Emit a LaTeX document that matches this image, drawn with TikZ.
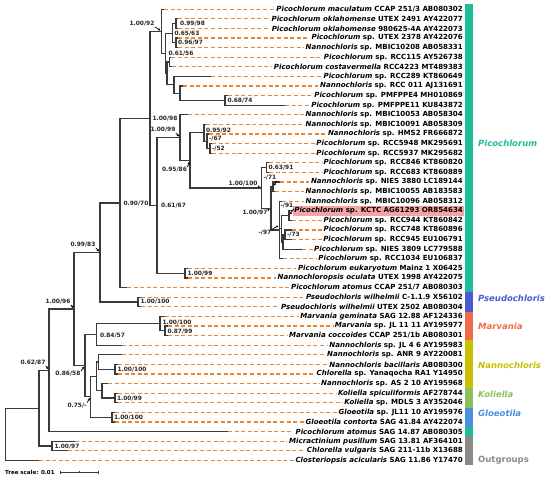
\documentclass[tikz,border=0pt]{standalone}
\usepackage{fontspec}
\setmainfont{DejaVu Sans}
\usetikzlibrary{arrows.meta}
\definecolor{brc}{HTML}{3A3A3A}
\definecolor{dshc}{HTML}{F0862A}
\definecolor{cPico}{HTML}{1CBC9A}
\definecolor{cPseu}{HTML}{4A5BD4}
\definecolor{cMarv}{HTML}{EE6A48}
\definecolor{cNann}{HTML}{C9C000}
\definecolor{cKoli}{HTML}{8DC05A}
\definecolor{cGloe}{HTML}{4A8FE0}
\definecolor{cOut}{HTML}{8A8A8A}
\definecolor{hilite}{HTML}{F5A3A3}
\newcommand\gn[1]{{\itshape #1}}
\tikzset{
  brl/.style={draw=brc,line width=1.2pt},
  dsh/.style={draw=dshc,line width=1.2pt,dash pattern=on 4pt off 2.6pt},
  leaflab/.style={anchor=east,inner sep=1.5pt,font=\fontsize{7.05}{8}\selectfont\bfseries,text=black},
  bs/.style={anchor=west,inner sep=0.3pt,font=\fontsize{5.9}{6.5}\selectfont\bfseries,text=black!85},
  arr/.style={draw=black,line width=0.75pt,-{Stealth[length=2.4pt,width=2.4pt]},shorten >=1.5pt},
  grp/.style={anchor=west,inner sep=0pt,font=\fontsize{8.5}{10}\selectfont\bfseries\itshape},
}
\newcommand\leaf[4]{%
  \coordinate (t#1) at (#2,{9.2+(#1-1)*9.6});
  \node[leaflab] (l#1) at (464.5,{9.2+(#1-1)*9.6}) {#4};
  \draw[brl] (#3) |- (t#1);
  \draw[dsh] (t#1) -- (l#1.west);
}
\begin{document}
\begin{tikzpicture}[x=1pt,y=-1pt]
\useasboundingbox[fill=white] (0,0) rectangle (550,480);
% internal nodes
\coordinate (n23) at (176,23.6);
\coordinate (n45) at (176,42.8);
\coordinate (P) at (172.5,33.2);
\coordinate (Q) at (169.3,62.0);
\coordinate (G) at (225,100.4);
\coordinate (E) at (180,93.2);
\coordinate (F) at (174,84.8);
\coordinate (D) at (167,73.4);
\coordinate (C) at (165.5,53.3);
\coordinate (B) at (161.7,31.25);
\coordinate (n1516) at (210,148.4);
\coordinate (n14) at (207,141.2);
\coordinate (J) at (204,132.8);
\coordinate (n1718) at (266.5,167.6);
\coordinate (M) at (273,186.8);
\coordinate (T) at (289,215.6);
\coordinate (W) at (285,234.8);
\coordinate (V) at (283,242.0);
\coordinate (R) at (281.5,228.8);
\coordinate (N) at (279.5,230.0);
\coordinate (Na) at (279.5,225.0);
\coordinate (L) at (271,208.4);
\coordinate (K) at (261.5,188.0);
\coordinate (I) at (190,160.4);
\coordinate (H) at (180,137.6);
\coordinate (n2829) at (185,273.2);
\coordinate (S061) at (157,205.4);
\coordinate (A150) at (150,118.3);
\coordinate (n090) at (120,203.0);
\coordinate (n3132) at (138,302.0);
\coordinate (n099) at (100,252.5);
\coordinate (n3435) at (165,330.8);
\coordinate (n33) at (160,323.6);
\coordinate (n084) at (96.5,334.4);
\coordinate (n3839) at (115,369.2);
\coordinate (n37) at (98.5,362.0);
\coordinate (n4142) at (115,398.0);
\coordinate (n40) at (102,390.8);
\coordinate (Z) at (96.5,376.4);
\coordinate (n4344) at (112,417.2);
\coordinate (n075) at (90.7,396.8);
\coordinate (n086) at (85,365.6);
\coordinate (n100) at (74,309.05);
\coordinate (n062) at (49,370.3);
\coordinate (n4647) at (52,446.0);
\coordinate (n39) at (39,408.2);
\coordinate (root) at (5.3,434.3);
% internal branches
\foreach \p/\c in {B/C,C/P,C/D,P/n23,P/n45,D/Q,D/F,F/E,E/G,A150/B,A150/S061,S061/H,S061/n2829,H/I,I/J,I/K,J/n14,n14/n1516,K/n1718,K/L,L/M,L/N,N/R,R/T,R/V,V/W,n090/A150,n099/n090,n099/n3132,n100/n099,n100/n086,n086/n084,n086/n075,n084/n33,n33/n3435,n075/Z,n075/n4344,Z/n37,Z/n40,n37/n3839,n40/n4142,n062/n100,n39/n062,n39/n4647,root/n39}
  {\draw[brl] (\p) |- (\c);}
% colour bar
\fill[cPico] (465,4.4) rectangle (472.5,292.4);
\fill[cPseu] (465,292.4) rectangle (472.5,311.6);
\fill[cMarv] (465,311.6) rectangle (472.5,340.4);
\fill[cNann] (465,340.4) rectangle (472.5,388.4);
\fill[cKoli] (465,388.4) rectangle (472.5,407.6);
\fill[cGloe] (465,407.6) rectangle (472.5,426.8);
\fill[cPico] (465,426.8) rectangle (472.5,436.4);
\fill[cOut] (465,436.4) rectangle (472.5,465.2);
% leaves
\leaf{1}{164}{B}{\gn{Picochlorum maculatum} CCAP 251/3 AB080302}
\leaf{2}{178}{n23}{\gn{Picochlorum oklahomense} UTEX 2491 AY422077}
\leaf{3}{178}{n23}{\gn{Picochlorum oklahomense} 980625-4A AY422073}
\leaf{4}{178}{n45}{\gn{Picochlorum} sp. UTEX 2378 AY422076}
\leaf{5}{178}{n45}{\gn{Nannochloris} sp. MBIC10208 AB058331}
\leaf{6}{171}{Q}{\gn{Picochlorum} sp. RCC115 AY526738}
\leaf{7}{172}{Q}{\gn{Picochlorum costavermella} RCC4223 MT489383}
\leaf{8}{211}{F}{\gn{Picochlorum} sp. RCC289 KT860649}
\leaf{9}{183}{E}{\gn{Nannochloris} sp. RCC 011 AJ131691}
\leaf{10}{228}{G}{\gn{Picochlorum} sp. PMFPPE4 MH010869}
\leaf{11}{285}{G}{\gn{Picochlorum} sp. PMFPPE11 KU843872}
\leaf{12}{188}{H}{\gn{Nannochloris} sp. MBIC10053 AB058304}
\leaf{13}{206}{J}{\gn{Nannochloris} sp. MBIC10091 AB058309}
\leaf{14}{209}{n14}{\gn{Nannochloris} sp. HMS2 FR666872}
\leaf{15}{212}{n1516}{\gn{Picochlorum} sp. RCC5948 MK295691}
\leaf{16}{212}{n1516}{\gn{Picochlorum} sp. RCC5937 MK295682}
\leaf{17}{269}{n1718}{\gn{Picochlorum} sp. RCC846 KT860820}
\leaf{18}{269}{n1718}{\gn{Picochlorum} sp. RCC683 KT860889}
\leaf{19}{280}{M}{\gn{Nannochloris} sp. NIES 3880 LC189144}
\leaf{20}{275}{M}{\gn{Nannochloris} sp. MBIC10055 AB183583}
\leaf{21}{282}{N}{\gn{Nannochloris} sp. MBIC10096 AB058312}
\node[leaflab,fill=hilite] (l22) at (464.5,210.8) {\gn{Picochlorum} sp. KCTC AG61293 OR854634};
\draw[brl] (T) |- (l22.west);
\leaf{23}{292}{T}{\gn{Picochlorum} sp. RCC944 KT860842}
\leaf{24}{292}{W}{\gn{Picochlorum} sp. RCC748 KT860896}
\leaf{25}{292}{W}{\gn{Picochlorum} sp. RCC945 EU106791}
\leaf{26}{302}{V}{\gn{Picochlorum} sp. NIES 3809 LC779588}
\leaf{27}{283}{N}{\gn{Picochlorum} sp. RCC1034 EU106837}
\leaf{28}{188}{n2829}{\gn{Picochlorum eukaryotum} Mainz 1 X06425}
\leaf{29}{188}{n2829}{\gn{Nannochloropsis oculata} UTEX 1998 AY422075}
\leaf{30}{127}{n090}{\gn{Picochlorum atomus} CCAP 251/7 AB080303}
\leaf{31}{141}{n3132}{\gn{Pseudochloris wilhelmii} C-1.1.9 X56102}
\leaf{32}{141}{n3132}{\gn{Pseudochloris wilhelmii} UTEX 2502 AB080304}
\leaf{33}{165}{n33}{\gn{Marvania geminata} SAG 12.88 AF124336}
\leaf{34}{168}{n3435}{\gn{Marvania} sp. JL 11 11 AY195977}
\leaf{35}{168}{n3435}{\gn{Marvania coccoides} CCAP 251/1b AB080301}
\leaf{36}{122}{n084}{\gn{Nannochloris} sp. JL 4 6 AY195983}
\leaf{37}{122}{n37}{\gn{Nannochloris} sp. ANR 9 AY220081}
\leaf{38}{118}{n3839}{\gn{Nannochloris bacillaris} AB080300}
\leaf{39}{118}{n3839}{\gn{Chlorella} sp. Yanaqocha RA1 Y14950}
\leaf{40}{108}{n40}{\gn{Nannochloris} sp. AS 2 10 AY195968}
\leaf{41}{118}{n4142}{\gn{Koliella spiculiformis} AF278744}
\leaf{42}{118}{n4142}{\gn{Koliella} sp. MDLS 3 AY352046}
\leaf{43}{115}{n4344}{\gn{Gloeotila} sp. JL11 10 AY195976}
\leaf{44}{115}{n4344}{\gn{Gloeotila contorta} SAG 41.84 AY422074}
\leaf{45}{228}{n062}{\gn{Picochlorum atomus} SAG 14.87 AB080305}
\leaf{46}{75}{n4647}{\gn{Micractinium pusillum} SAG 13.81 AF364101}
\leaf{47}{68}{n4647}{\gn{Chlorella vulgaris} SAG 211-11b X13688}
\leaf{48}{39}{root}{\gn{Closteriopsis acicularis} SAG 11.86 Y17470}
% support labels
\node[bs] (bB) at (129,24) {1.00/92};
\draw[arr] (bB.south east) -- (B);
\node[bs] (b23) at (179.5,23.6) {0.99/98};
\node[bs] (bP) at (174,33.2) {0.65/63};
\node[bs] (b45) at (177.5,42.8) {0.96/97};
\node[bs] (bC) at (168,53.3) {0.61/56};
\node[bs] (bG) at (227,100.4) {0.68/74};
\node[bs] (bA) at (152,118.3) {1.00/98};
\node[bs] (bH) at (150,130) {1.00/99};
\draw[arr] (bH.south east) -- (H);
\node[bs] (bJ) at (205.5,130.8) {0.95/92};
\node[bs] (b14) at (208.5,139) {-/67};
\node[bs] (b1516) at (211.5,148.4) {-/52};
\node[bs] (bI) at (161.5,170) {0.95/86};
\draw[arr] (bI.north east) -- (I);
\node[bs] (bK) at (228,183.5) {1.00/100};
\draw[arr] (bK.south east) -- (K);
\node[bs] (b1718) at (268,167.6) {0.63/91};
\node[bs] (bM) at (263,178) {-/71};
\draw[arr] (bM.south east) -- (M);
\node[bs] (bL) at (242,213) {1.00/97};
\draw[arr] (bL.north east) -- (L);
\node[bs] (bN) at (258,232.5) {-/97};
\draw[arr] (bN.north east) -- (Na);
\node[bs] (bT) at (280,205.8) {-/91};
\draw[arr] (bT.south east) -- (T);
\node[bs] (bW) at (286.5,235) {-/73};
\node[bs] (b2829) at (187,273.2) {1.00/99};
\node[bs] (b090) at (123,203.5) {0.90/70};
\node[bs] (b061) at (160.5,205.7) {0.61/67};
\node[bs] (b099) at (70,245) {0.99/83};
\draw[arr] (b099.south east) -- (n099);
\node[bs] (b3132) at (140,302) {1.00/100};
\node[bs] (b100) at (45,302) {1.00/96};
\draw[arr] (b100.south east) -- (n100);
\node[bs] (b33) at (162,322.7) {1.00/100};
\node[bs] (b3435) at (167,331.5) {0.87/99};
\node[bs] (b084) at (99.5,335.5) {0.84/57};
\node[bs] (b086) at (55,374) {0.86/58};
\draw[arr] (b086.north east) -- (n086);
\node[bs] (b3839) at (117,370) {1.00/100};
\node[bs] (b4142) at (116.5,399) {1.00/99};
\node[bs] (b075) at (67,405.5) {0.75/-};
\draw[arr] (b075.north east) -- (n075);
\node[bs] (b4344) at (113.5,417.5) {1.00/100};
\node[bs] (b062) at (20,363) {0.62/87};
\draw[arr] (b062.south east) -- (n062);
\node[bs] (b4647) at (54,447) {1.00/97};
% group labels
\node[grp,text=cPico] (gPico) at (478,143) {Picochlorum};
\node[grp,text=cPseu] (gPseu) at (478,298) {Pseudochloris};
\node[grp,text=cMarv] (gMarv) at (478,326.5) {Marvania};
\node[grp,text=cNann] (gNann) at (478,365) {Nannochloris};
\node[grp,text=cKoli] (gKoli) at (478,394) {Koliella};
\node[grp,text=cGloe] (gGloe) at (478,413) {Gloeotila};
\node[grp,text=cOut,font=\fontsize{8.5}{10}\selectfont\bfseries] (gOut) at (478,460.5) {Outgroups};
% scale bar
\node[anchor=west,inner sep=0pt,font=\fontsize{5.5}{6}\selectfont\bfseries] (sc) at (5,472) {Tree scale: 0.01};
\coordinate (s0) at (60,472);
\coordinate (s1) at (79,472);
\coordinate (s2) at (98,472);
\draw[draw=brc,line width=0.8pt] (s0) -- (s2);
\draw[draw=brc,line width=0.6pt] ([yshift=1.5pt]s0) -- ([yshift=-1.5pt]s0);
\draw[draw=brc,line width=0.6pt] ([yshift=1pt]s1) -- ([yshift=-1pt]s1);
\draw[draw=brc,line width=0.6pt] ([yshift=1.5pt]s2) -- ([yshift=-1.5pt]s2);
\end{tikzpicture}
\end{document}
